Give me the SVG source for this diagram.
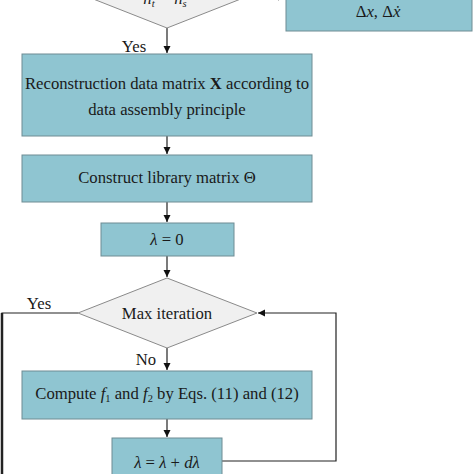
<svg xmlns="http://www.w3.org/2000/svg" width="474" height="474" viewBox="0 0 474 474">
<defs>
<style>
.box{fill:#8fc5d1;stroke:#6e8c93;stroke-width:1}
.dia{fill:#f0f0f0;stroke:#8a8a8a;stroke-width:1}
.t{font-family:"Liberation Serif","Times New Roman",serif;font-size:16.7px;fill:#1a1a1a;text-anchor:middle}
.i{font-style:italic}
.sub{font-size:10.5px}
.ln{fill:none;stroke:#222;stroke-width:1.2}
</style>
<marker id="ah" markerWidth="8" markerHeight="8" refX="7" refY="4" orient="auto" markerUnits="userSpaceOnUse">
<path d="M0,0.5 L7,4 L0,7.5 Z" fill="#111"/>
</marker>
</defs>
<rect width="474" height="474" fill="#fff"/>

<g id="connectors">
<line class="ln" x1="167" y1="28" x2="167" y2="53" marker-end="url(#ah)"/>
<line class="ln" x1="257" y1="-3" x2="285" y2="-3" marker-end="url(#ah)"/>
<line class="ln" x1="167" y1="136" x2="167" y2="154" marker-end="url(#ah)"/>
<line class="ln" x1="167" y1="202" x2="167" y2="222" marker-end="url(#ah)"/>
<line class="ln" x1="167" y1="256" x2="167" y2="277" marker-end="url(#ah)"/>
<line class="ln" x1="167" y1="348" x2="167" y2="370" marker-end="url(#ah)"/>
<line class="ln" x1="167" y1="419" x2="167" y2="437" marker-end="url(#ah)"/>
<polyline class="ln" points="222,461 336,461 336,313 258,313" marker-end="url(#ah)"/>
<polyline points="78,313 2,313 2,474" fill="none" stroke="#222" stroke-width="1.2"/>
<line x1="2" y1="313" x2="2" y2="474" stroke="#222" stroke-width="2.5"/>
<text class="t" x="134" y="52">Yes</text>
<text class="t" x="39" y="309">Yes</text>
<text class="t" x="146" y="365">No</text>
</g>

<g id="node-top-decision">
<polygon class="dia" points="167,-42 256,-7 167,28 78,-7"/>
<text class="t i" x="165" y="4" font-size="14">n<tspan class="sub" dy="3">t</tspan><tspan dy="-3"> = n</tspan><tspan class="sub" dy="3">s</tspan></text>
</g>

<g id="node-delta">
<rect class="box" x="286" y="-10" width="186" height="41"/>
<text class="t" x="378" y="17"><tspan>Δ</tspan><tspan class="i">x</tspan><tspan>, Δ</tspan><tspan class="i">ẋ</tspan></text>
</g>

<g id="node-reconstruct">
<rect class="box" x="22" y="54" width="290" height="82"/>
<text class="t" x="167" y="89">Reconstruction data matrix <tspan font-weight="bold">X</tspan> according to</text>
<text class="t" x="167" y="115">data assembly principle</text>
</g>

<g id="node-library">
<rect class="box" x="22" y="155" width="290" height="47"/>
<text class="t" x="167" y="183">Construct library matrix Θ</text>
</g>

<g id="node-lambda0">
<rect class="box" x="101" y="223" width="133" height="33"/>
<text class="t" x="167" y="245"><tspan class="i">λ</tspan> = 0</text>
</g>

<g id="node-maxiter">
<polygon class="dia" points="167,278 257,313 167,348 78,313"/>
<text class="t" x="167" y="319">Max iteration</text>
</g>

<g id="node-compute">
<rect class="box" x="22" y="371" width="290" height="48"/>
<text class="t" x="167" y="399">Compute <tspan class="i">f</tspan><tspan class="sub" dy="3">1</tspan><tspan dy="-3"> and </tspan><tspan class="i">f</tspan><tspan class="sub" dy="3">2</tspan><tspan dy="-3"> by Eqs. (11) and (12)</tspan></text>
</g>

<g id="node-update">
<rect class="box" x="112" y="438" width="110" height="45"/>
<text class="t" x="167" y="468"><tspan class="i">λ</tspan> = <tspan class="i">λ</tspan> + <tspan class="i">dλ</tspan></text>
</g>
</svg>
